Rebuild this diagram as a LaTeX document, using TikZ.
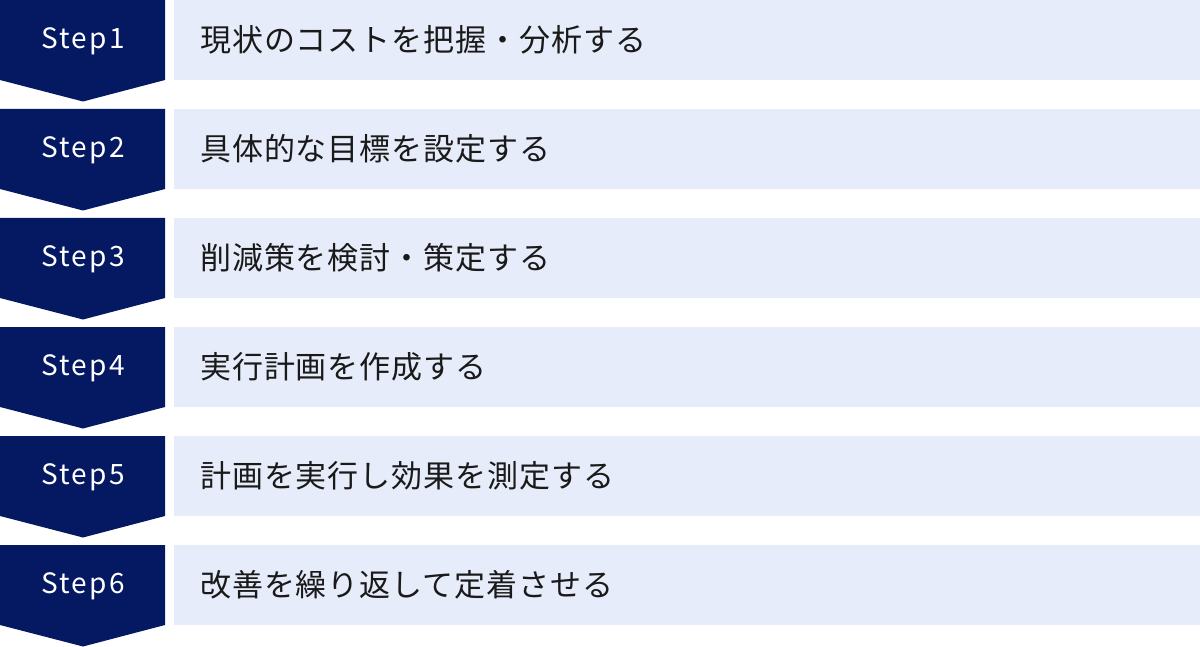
\documentclass[tikz,border=0pt]{standalone}
\usepackage{fontspec}
\setmainfont{Noto Sans CJK JP}
\newfontfamily\jpfont{Noto Sans CJK JP}
\newfontfamily\stepfont[LetterSpace=8]{Noto Sans CJK JP}
\newfontfamily\descfont[LetterSpace=3]{Noto Sans CJK JP}
\definecolor{navy}{HTML}{051862}
\definecolor{pale}{HTML}{E6ECF9}
\definecolor{ink}{HTML}{1A1A1A}
\begin{document}
\begin{tikzpicture}[x=1pt,y=-1pt,
  stepbox/.style={fill=navy,draw=none},
  textbox/.style={fill=pale,draw=none},
  steplabel/.style={text=white,font=\stepfont\fontsize{28}{32}\selectfont,anchor=center,inner sep=0pt},
  desclabel/.style={text=ink,font=\descfont\fontsize{31}{36}\selectfont,anchor=west,inner sep=0pt}]
\useasboundingbox (0,0) rectangle (1200,647);
\foreach \i/\t in {1/現状のコストを把握・分析する,2/具体的な目標を設定する,3/削減策を検討・策定する,4/実行計画を作成する,5/計画を実行し効果を測定する,6/改善を繰り返して定着させる}{
  \pgfmathsetmacro{\y}{(\i-1)*109}
  \fill[stepbox] (0,\y) -- (165,\y) -- (165,\y+80) -- (83,\y+101.5) -- (0,\y+80) -- cycle;
  \fill[textbox] (174,\y) rectangle (1200,\y+80);
  \node[steplabel] (s\i) at (83,\y+41) {Step\i};
  \node[desclabel] (d\i) at (200,\y+40) {\t};
}
\end{tikzpicture}
\end{document}
